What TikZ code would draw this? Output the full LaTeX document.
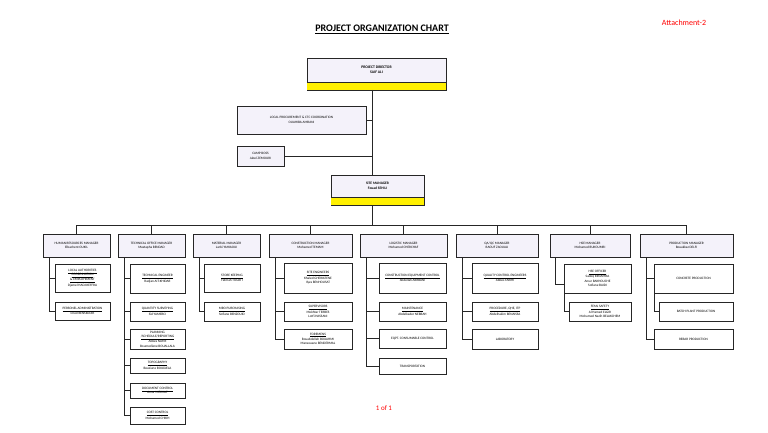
\documentclass[tikz,border=0pt]{standalone}
\usepackage{fontspec}
\setmainfont{Carlito}
\begin{document}
\begin{tikzpicture}[x=1pt,y=-1pt,
  bb/.style={draw=black!85,line width=0.8pt,inner sep=0pt,outer sep=0pt,anchor=north west,align=center,font=\fontsize{3.4}{4.3}\selectfont},
  mgr/.style={bb,fill=cyan!6!blue!4},
  sub/.style={bb,fill=white},
  ln/.style={line width=0.8pt,black!85}]
\definecolor{ylw}{RGB}{255,240,0}
\useasboundingbox (0,0) rectangle (768,433);
\newcommand\bx[7]{\node[#1,minimum width=#5pt,minimum height=#6pt] (#2) at (#3,#4) {#7};}
\node[font=\bfseries\fontsize{10}{12}\selectfont] (title) at (382,29) {\underline{PROJECT ORGANIZATION CHART}};
\node[text=red,font=\fontsize{8}{10}\selectfont] (att) at (684,23) {Attachment-2};
\node[text=red,font=\fontsize{7}{9}\selectfont] (pg) at (384,408) {1 of 1};
% top
\bx{mgr}{pd}{307}{58}{139}{32}{}
\fill[ylw] (307.4,82) rectangle (445.6,89.6);
\draw[ln] (307,82) -- (446,82);
\node[font=\bfseries\fontsize{3.8}{4.6}\selectfont,align=center] (pdt) at (376.5,70) {PROJECT DIRECTOR\\SAIF ALI};
\bx{mgr}{lp}{237}{106}{129}{28}{LOCAL PROCUREMENT \& CTC COORDINATION\\OUAHIBA AMRANI}
\bx{mgr}{cb}{237}{146}{47}{20}{CAMP BOSS\\Jabel ZEMOURI}
\bx{mgr}{sm}{331}{175}{93}{30}{}
\fill[ylw] (331.4,197) rectangle (423.6,204.6);
\draw[ln] (331,197) -- (424,197);
\node[font=\bfseries\fontsize{3.6}{4.4}\selectfont,align=center] (smt) at (377.5,186) {SITE MANAGER\\Fouad SEHILI};
\coordinate (top) at (372,90);
\coordinate (smn) at (372,175);
\draw[ln] (top) -- (smn);
\draw[ln] (lp.east) -- (lp.east -| top);
\draw[ln] (cb.east) -- (cb.east -| top);
\coordinate (sms) at (372,205);
\coordinate (bus) at (372,225);
\draw[ln] (sms) -- (bus);
% managers
\bx{mgr}{m1}{43}{234}{67}{23}{HUMAN RESOURCES MANAGER\\Elbachent OUKIL}
\bx{mgr}{m2}{118}{234}{67}{23}{TECHNICAL OFFICE MANAGER\\Mustapha BENDAD}
\bx{mgr}{m3}{193}{234}{67}{23}{MATERIAL MANAGER\\Larbi YAHIAOUI}
\bx{mgr}{m4}{269}{234}{83}{23}{CONSTRUCTION MANAGER\\Mohamed TEMAM}
\bx{mgr}{m5}{360}{234}{87}{23}{LOGISTIC MANAGER\\Mohamed CHERCHAF}
\bx{mgr}{m6}{456}{234}{82}{23}{QA/QC MANAGER\\RAOUF ZAOUALI}
\bx{mgr}{m7}{550}{234}{80}{23}{HSE MANAGER\\Mohamed BUKOUMRI}
\bx{mgr}{m8}{640}{234}{93}{23}{PRODUCTION MANAGER\\Bouakkaz DELFI}
\foreach \m in {m1,m2,m3,m4,m5,m6,m7,m8} \draw[ln] (\m.north) |- (bus);
% HR
\bx{sub}{a1}{55}{264}{55}{28}{\underline{LOCAL AUTHORITIES}\\\underline{COORDINATION}\\\underline{\& EMPLOYEMENT}\\Djamel HADJ-KEFFRA}
\bx{sub}{a2}{55}{302}{55}{18}{\underline{PERSONEL ADMINISTRATION}\\Imed BENSEDDIK}
% Tech
\bx{sub}{b1}{130}{264}{55}{29}{\underline{TECHNICAL ENGINEER}\\Radjan AIT-KHIDAR}
\bx{sub}{b2}{130}{302}{55}{19}{\underline{QUANTITY SURVEYING}\\Sid YAMERCI}
\bx{sub}{b3}{130}{329}{55}{20}{PLANNING\\\underline{/SCHEDULE/REPORTING}\\Abbes NAFIR\\Boumediene BOUALLALA}
\bx{sub}{b4}{130}{358}{55}{15}{\underline{TOPOGRAPHY}\\Bouziane BOUDJELA}
\bx{sub}{b5}{130}{383}{55}{15}{\underline{DOCUMENT CONTROL}\\Amar MEKHAF}
\bx{sub}{b6}{130}{407}{55}{17}{\underline{COST CONTROL}\\Mohamed CHIKH}
% Material
\bx{sub}{c1}{204}{264}{56}{28}{\underline{STORE KEEPING}\\Fatmah TOUATI}
\bx{sub}{c2}{204}{302}{56}{19}{\underline{MRO PURCHASING}\\Sofiane BENZOUID}
% Construction
\bx{sub}{d1}{284}{263}{68}{30}{\underline{SITE ENGINEERS}\\Khaled GHERIATENE\\Ilyes BENHOUSAT}
\bx{sub}{d2}{284}{302}{68}{19}{\underline{SUPERVISORS}\\Mokhtar TERBES\\Lotfi HASSANI}
\bx{sub}{d3}{284}{329}{68}{20}{\underline{FOREMENS}\\Bouabdellah BOUAHMI\\Mansouane BENDERMAL}
% Logistic
\bx{sub}{e1}{379}{263}{67}{30}{\underline{CONSTRUCTION EQUIPMENT CONTROL}\\Abdellah ABRBANI}
\bx{sub}{e2}{379}{302}{67}{19}{\underline{MAINTENANCE}\\Abdelkader NEBBAH}
\bx{sub}{e3}{379}{329}{67}{19}{EQPT. CONSUMABLE CONTROL}
\bx{sub}{e4}{379}{358}{67}{16}{TRANSPORTATION}
% QA
\bx{sub}{f1}{472}{263}{66}{30}{\underline{QUALITY CONTROL ENGINEERS}\\Abbes FAKIHI}
\bx{sub}{f2}{472}{302}{66}{19}{\underline{PROCEDURE, QHE, ITP}\\Abdelhakim BENAISSA}
\bx{sub}{f3}{472}{329}{66}{20}{LABORATORY}
% HSE
\bx{sub}{g1}{564}{264}{67}{29}{\underline{HSE OFFICER}\\Sadeq BENAMRA\\Amar BAKHOUCHE\\Sofiane BAIDI}
\bx{sub}{g2}{569}{302}{62}{19}{\underline{FEML SAFETY}\\Al Hamed ELGIR\\Mohamed Nazih BELAKCHEM}
% Production
\bx{sub}{h1}{654}{264}{79}{29}{CONCRETE PRODUCTION}
\bx{sub}{h2}{659}{302}{74}{19}{BATCH PLANT PRODUCTION}
\bx{sub}{h3}{654}{329}{79}{20}{REBAR PRODUCTION}
% branch lines
\foreach \m/\s in {m1/a1,m1/a2,m2/b1,m2/b2,m2/b3,m2/b4,m2/b5,m2/b6,m3/c1,m3/c2,m4/d1,m4/d2,m4/d3,m5/e1,m5/e2,m5/e3,m5/e4,m6/f1,m6/f2,m6/f3,m8/h1,m8/h3}
  \draw[ln] ([xshift=6pt]\m.south west) |- (\s.west);
\draw[ln] ([xshift=5pt]m7.south west) |- ([yshift=-6pt]g1.west);
\draw[ln] (h1.south west) ++(0,0) coordinate (h1sw) |- (h2.west);
\draw[ln] (g1.south west) |- (g2.west);
\end{tikzpicture}
\end{document}
